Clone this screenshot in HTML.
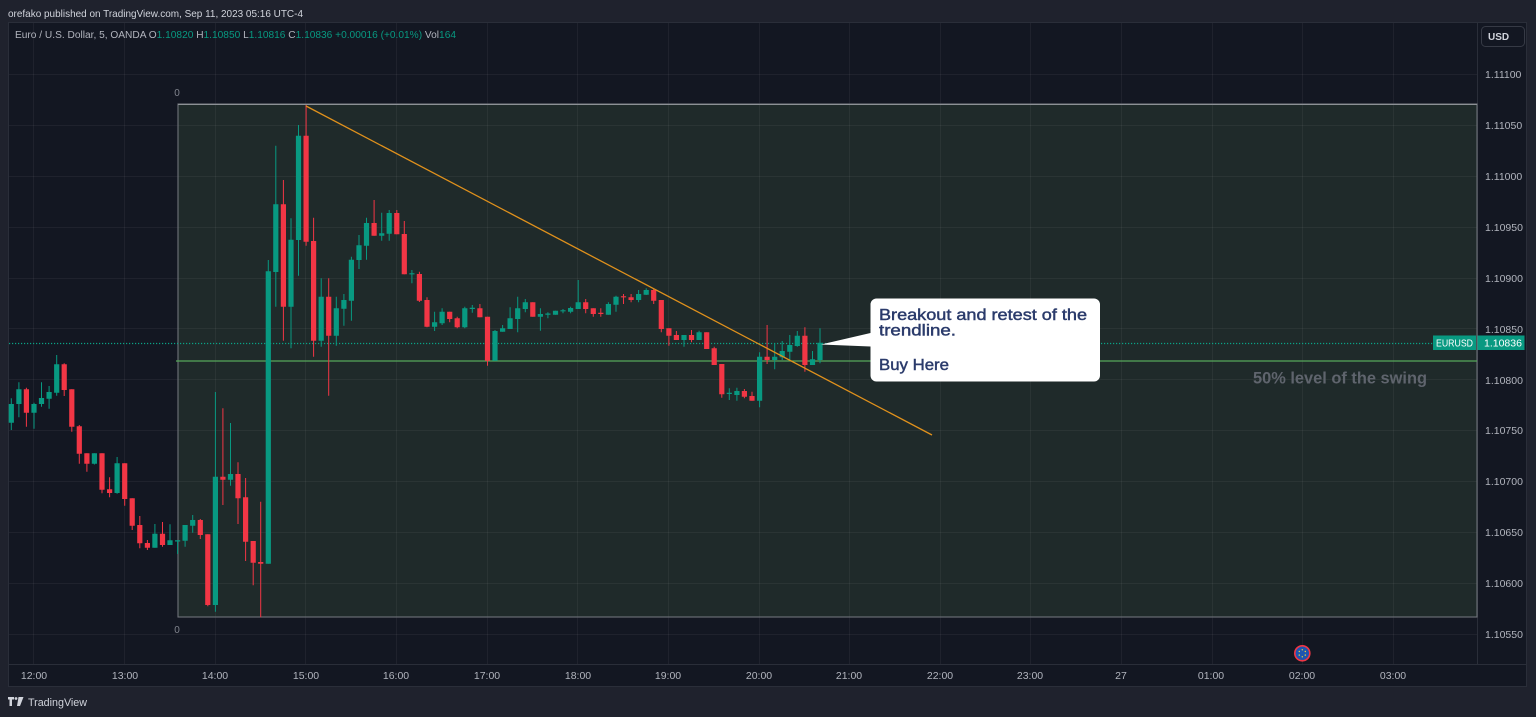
<!DOCTYPE html>
<html><head><meta charset="utf-8"><style>
html,body{margin:0;padding:0;background:#1f222d;}
svg{display:block;font-family:"Liberation Sans",sans-serif;}
</style></head><body>
<svg width="1536" height="717" viewBox="0 0 1536 717" xmlns="http://www.w3.org/2000/svg">
<rect x="0" y="0" width="1536" height="717" fill="#1f222d"/>
<text x="8" y="17" font-size="10.5" fill="#d1d4dc" textLength="295" lengthAdjust="spacingAndGlyphs">orefako published on TradingView.com, Sep 11, 2023 05:16 UTC-4</text>
<!-- chart panel -->
<rect x="8.5" y="22.5" width="1518" height="664" fill="#131722" stroke="#2a2e39"/>
<!-- rectangle drawing fill -->
<rect x="178" y="104" width="1299" height="513" fill="#1f2a2a"/>
<!-- grid -->
<g stroke="#ffffff" stroke-opacity="0.05" stroke-width="1">
<path d="M9 74.5H1477M9 125.5H1477M9 176.5H1477M9 227.5H1477M9 278.5H1477M9 328.5H1477M9 379.5H1477M9 430.5H1477M9 481.5H1477M9 532.5H1477M9 583.5H1477M9 634.5H1477"/>
<path d="M33.5 23V664M124.5 23V664M215.5 23V664M305.5 23V664M396.5 23V664M487.5 23V664M577.5 23V664M668.5 23V664M759.5 23V664M849.5 23V664M940.5 23V664M1030.5 23V664M1121.5 23V664M1212.5 23V664M1302.5 23V664M1393.5 23V664"/>
</g>
<!-- axis separators -->
<path d="M1477.5 23V664" stroke="#2a2e39"/>
<path d="M9 664.5H1526" stroke="#2a2e39"/>
<!-- rectangle border -->
<rect x="178" y="104" width="1299" height="513" fill="none" stroke="#6f737b" stroke-width="1.1"/>
<path d="M178 104.5H1477" stroke="#8d9196" stroke-width="1"/>
<!-- 50% line -->
<path d="M176 361H1477" stroke="#56a85a" stroke-width="1.2"/>
<!-- dotted price line -->
<path d="M9 343.5H1433" stroke="#0aa386" stroke-width="1.2" stroke-dasharray="1.2 1.8"/>
<!-- candles green -->
<path fill="none" stroke="#089981" stroke-width="1" d="M11.3 398.3V430M18.9 382.3V417.3M34 402.7V428.7M41.5 382.3V406.7M49.1 386V408.7M56.7 355V395.7M94.4 453.3V464.5M117.1 457V493.7M154.9 524V547.7M170 524.3V545M177.6 540.3V554M185.1 525V546.7M192.7 515V532.7M215.4 392V611.7M230.5 423V485.7M268.3 260V563.7M275.8 145.7V306.7M291 218.3V348.3M298.5 125V275.7M321.2 278.3V346.7M336.3 296.7V345.7M343.9 294V325.7M351.4 256.7V320.7M359 235V269M366.5 217.7V259.7M381.7 212.7V240.7M389.2 210V240.7M411.9 270V283.3M434.6 311.7V331M442.1 308.3V325M464.8 306.7V328.3M472.3 305V312.7M495 330V360.7M502.6 325V331.7M510.1 307.3V329M517.7 296.7V332.3M525.3 299V312.3M540.4 308.3V330.7M547.9 312.3V318.3M555.5 310.7V314.7M563 309V313.3M570.6 306.7V313.3M578.2 280V309M608.4 302.3V314.7M616 295.7V311.7M638.6 290V302.3M646.2 288.3V295M684 335V346.7M699.1 330.7V340M729.3 388.3V400M736.9 387.7V400.7M759.6 352.3V407.3M774.7 343.3V369.3M782.2 341V360M789.8 335V360M797.3 331V346.7M812.5 351V365M820 328.3V363.3"/>
<path fill="none" stroke="#089981" stroke-width="5.2" d="M11.3 404V422.7M18.9 389.3V404M34 404V412.7M41.5 398V404M49.1 392V398.7M56.7 364.3V392.7M94.4 453.3V463.7M117.1 463.3V493M154.9 533.7V547.7M170 540.3V545M177.6 540.3V541.5M185.1 525V540.7M192.7 520V525.7M215.4 476.7V605M230.5 474V479.7M268.3 271.3V563.7M275.8 204.3V272M291 239.7V306.7M298.5 135.7V240M321.2 296.7V340.7M336.3 308.3V335.7M343.9 300V308.7M351.4 259.7V300.7M359 245.3V260M366.5 223V245.7M381.7 233.3V235.7M389.2 213V233.7M411.9 273.2V274.4M434.6 322.3V326.7M442.1 311.7V323.3M464.8 308.3V327.3M472.3 307.8V309M495 331V360.7M502.6 328.3V331.7M510.1 318.3V329M517.7 308.3V319M525.3 302.3V309M540.4 314V316.7M547.9 313.5V314.7M555.5 310.7V314.7M563 310.2V311.4M570.6 308V311.7M578.2 302.3V309M608.4 304V314.7M616 296.7V304.7M638.6 294V300M646.2 290V294.7M684 335V340M699.1 332.3V340M729.3 392.8V394M736.9 391V395M759.6 356.7V400.7M774.7 356.7V360M782.2 351V357.3M789.8 345V351.7M797.3 335.7V346M812.5 359.3V365M820 342.7V360"/>
<!-- candles red -->
<path fill="none" stroke="#f23645" stroke-width="1" d="M26.4 387.7V426.7M64.2 363.3V396M71.8 389.3V431.7M79.3 425V463.7M86.9 453.3V471.7M102 453.3V493.3M109.6 477.3V497.3M124.7 463.3V505.7M132.2 498.3V530M139.8 516V548.3M147.4 540V550M162.5 522V546.7M200.3 519V539M207.8 534.3V606.3M222.9 408.3V505M238 462.3V524M245.6 478V561M253.2 541V585.3M260.7 501.7V617.3M283.4 180V340.7M306.1 105V245.7M313.6 217.7V356.7M328.7 278.3V395.7M374.1 200V235.7M396.8 210V234.3M404.3 221V274.3M419.4 271.7V302M427 297.3V327.3M449.7 311.7V322.3M457.2 316.7V328.3M479.9 304V317.3M487.5 316.7V365.7M532.8 302.3V316.7M585.7 299V313.3M593.3 308.3V316.7M600.8 308.3V316.7M623.5 294V304M631.1 294V302.3M653.7 289V304M661.3 300V332.3M668.9 328.3V345.7M676.4 331V340M691.5 330V342.3M706.7 332.3V349M714.2 346.7V365M721.8 364V397.7M744.4 389V398.3M752 391.7V400.7M767.1 325V364M804.9 327.3V371.7"/>
<path fill="none" stroke="#f23645" stroke-width="5.2" d="M26.4 389.3V412.7M64.2 364.3V390M71.8 389.3V426.7M79.3 426.3V453.7M86.9 453.3V463.7M102 453.3V489.7M109.6 489.3V493M124.7 463.3V499M132.2 498.3V525.7M139.8 525V543.3M147.4 543V547.7M162.5 533.7V545M200.3 520V535M207.8 534.3V605M222.9 476.7V479.7M238 474V498.3M245.6 497.3V541.7M253.2 541V562.7M260.7 562V563.7M283.4 204.3V306.7M306.1 135.7V241.7M313.6 241V340.7M328.7 296.7V335.7M374.1 223V235.7M396.8 213V234.3M404.3 234V274.3M419.4 274V300.7M427 300V326.7M449.7 311.7V319M457.2 318.3V327.3M479.9 308.3V317.3M487.5 316.7V360.7M532.8 302.3V316.7M585.7 302.3V309M593.3 308.3V314M600.8 312.8V314M623.5 296.2V297.4M631.1 297.3V300M653.7 290V300.7M661.3 300V329M668.9 328.3V335.7M676.4 335V340M691.5 335V340M706.7 332.3V349M714.2 348.3V365M721.8 364V394.3M744.4 391V396.7M752 396V400.7M767.1 356.7V360M804.9 335.7V365"/>
<!-- trendline -->
<path d="M306 106L932 435" stroke="#e0911c" stroke-width="1.3" fill="none"/>
<!-- zero labels -->
<text x="177" y="96" font-size="10" fill="#80848d" text-anchor="middle">0</text>
<text x="177" y="633" font-size="10" fill="#80848d" text-anchor="middle">0</text>
<!-- 50% text -->
<text x="1253" y="383.5" font-size="16.5" font-weight="bold" fill="#5f646d" textLength="174" lengthAdjust="spacingAndGlyphs">50% level of the swing</text>
<!-- callout -->
<path d="M876.5 298.5H1094a6 6 0 0 1 6 6V375.5a6 6 0 0 1 -6 6H876.5a6 6 0 0 1 -6 -6V346.5L821 344.5L870.5 333V304.5a6 6 0 0 1 6 -6Z" fill="#ffffff"/>
<g fill="#2b3b6b" stroke="#2b3b6b" stroke-width="0.45" font-size="16">
<text x="879" y="320" textLength="208" lengthAdjust="spacingAndGlyphs">Breakout and retest of the</text>
<text x="879" y="335.5" textLength="77" lengthAdjust="spacingAndGlyphs">trendline.</text>
<text x="879" y="370" textLength="70" lengthAdjust="spacingAndGlyphs">Buy Here</text>
</g>
<!-- legend -->
<text y="38" font-size="10" fill="#b2b5be" textLength="441" lengthAdjust="spacingAndGlyphs" x="15">Euro / U.S. Dollar, 5, OANDA  O<tspan fill="#089981">1.10820</tspan>  H<tspan fill="#089981">1.10850</tspan>  L<tspan fill="#089981">1.10816</tspan>  C<tspan fill="#089981">1.10836</tspan>  <tspan fill="#089981">+0.00016 (+0.01%)</tspan>  Vol<tspan fill="#089981">164</tspan></text>
<!-- USD box -->
<rect x="1481.5" y="26.5" width="43" height="20" rx="4" fill="#131722" stroke="#363a45"/>
<text x="1488" y="40" font-size="10" fill="#d1d4dc" font-weight="bold">USD</text>
<!-- price labels -->
<g font-size="10.5" fill="#b2b5be">
<text x="1485" y="78">1.11100</text>
<text x="1485" y="129">1.11050</text>
<text x="1485" y="180">1.11000</text>
<text x="1485" y="231">1.10950</text>
<text x="1485" y="282">1.10900</text>
<text x="1485" y="333">1.10850</text>
<text x="1485" y="384">1.10800</text>
<text x="1485" y="434">1.10750</text>
<text x="1485" y="485">1.10700</text>
<text x="1485" y="536">1.10650</text>
<text x="1485" y="587">1.10600</text>
<text x="1485" y="638">1.10550</text>
</g>
<!-- EURUSD tags -->
<rect x="1433" y="335.5" width="43" height="14.5" fill="#089981"/>
<rect x="1477.5" y="335.5" width="47" height="14.5" fill="#089981"/>
<text x="1436" y="346.5" font-size="10" fill="#ffffff" textLength="37" lengthAdjust="spacingAndGlyphs">EURUSD</text>
<text x="1484" y="346.5" font-size="10.5" fill="#ffffff">1.10836</text>
<!-- time labels -->
<g font-size="10.5" fill="#b2b5be" text-anchor="middle">
<text x="34" y="679">12:00</text>
<text x="125" y="679">13:00</text>
<text x="215" y="679">14:00</text>
<text x="306" y="679">15:00</text>
<text x="396" y="679">16:00</text>
<text x="487" y="679">17:00</text>
<text x="578" y="679">18:00</text>
<text x="668" y="679">19:00</text>
<text x="759" y="679">20:00</text>
<text x="849" y="679">21:00</text>
<text x="940" y="679">22:00</text>
<text x="1030" y="679">23:00</text>
<text x="1121" y="679">27</text>
<text x="1211" y="679">01:00</text>
<text x="1302" y="679">02:00</text>
<text x="1393" y="679">03:00</text>
</g>
<!-- event icon -->
<circle cx="1302.3" cy="653.3" r="7.5" fill="#1d55b0" stroke="#f23645" stroke-width="1.6"/>
<g fill="#f5d33a">
<circle cx="1302.3" cy="649.8" r="0.7"/><circle cx="1305.3" cy="651.5" r="0.7"/><circle cx="1305.3" cy="655.1" r="0.7"/><circle cx="1302.3" cy="656.8" r="0.7"/><circle cx="1299.3" cy="655.1" r="0.7"/><circle cx="1299.3" cy="651.5" r="0.7"/>
</g>
<!-- footer logo -->
<g fill="#d1d4dc">
<path d="M8 697h6v2.5h-2v6.5h-2.5v-6.5H8z"/>
<circle cx="16" cy="698.5" r="1.4"/>
<path d="M18.5 697h5l-3.5 9h-3z"/>
</g>
<text x="28" y="706" font-size="11" fill="#d1d4dc" textLength="59" lengthAdjust="spacingAndGlyphs">TradingView</text>
</svg>
</body></html>
